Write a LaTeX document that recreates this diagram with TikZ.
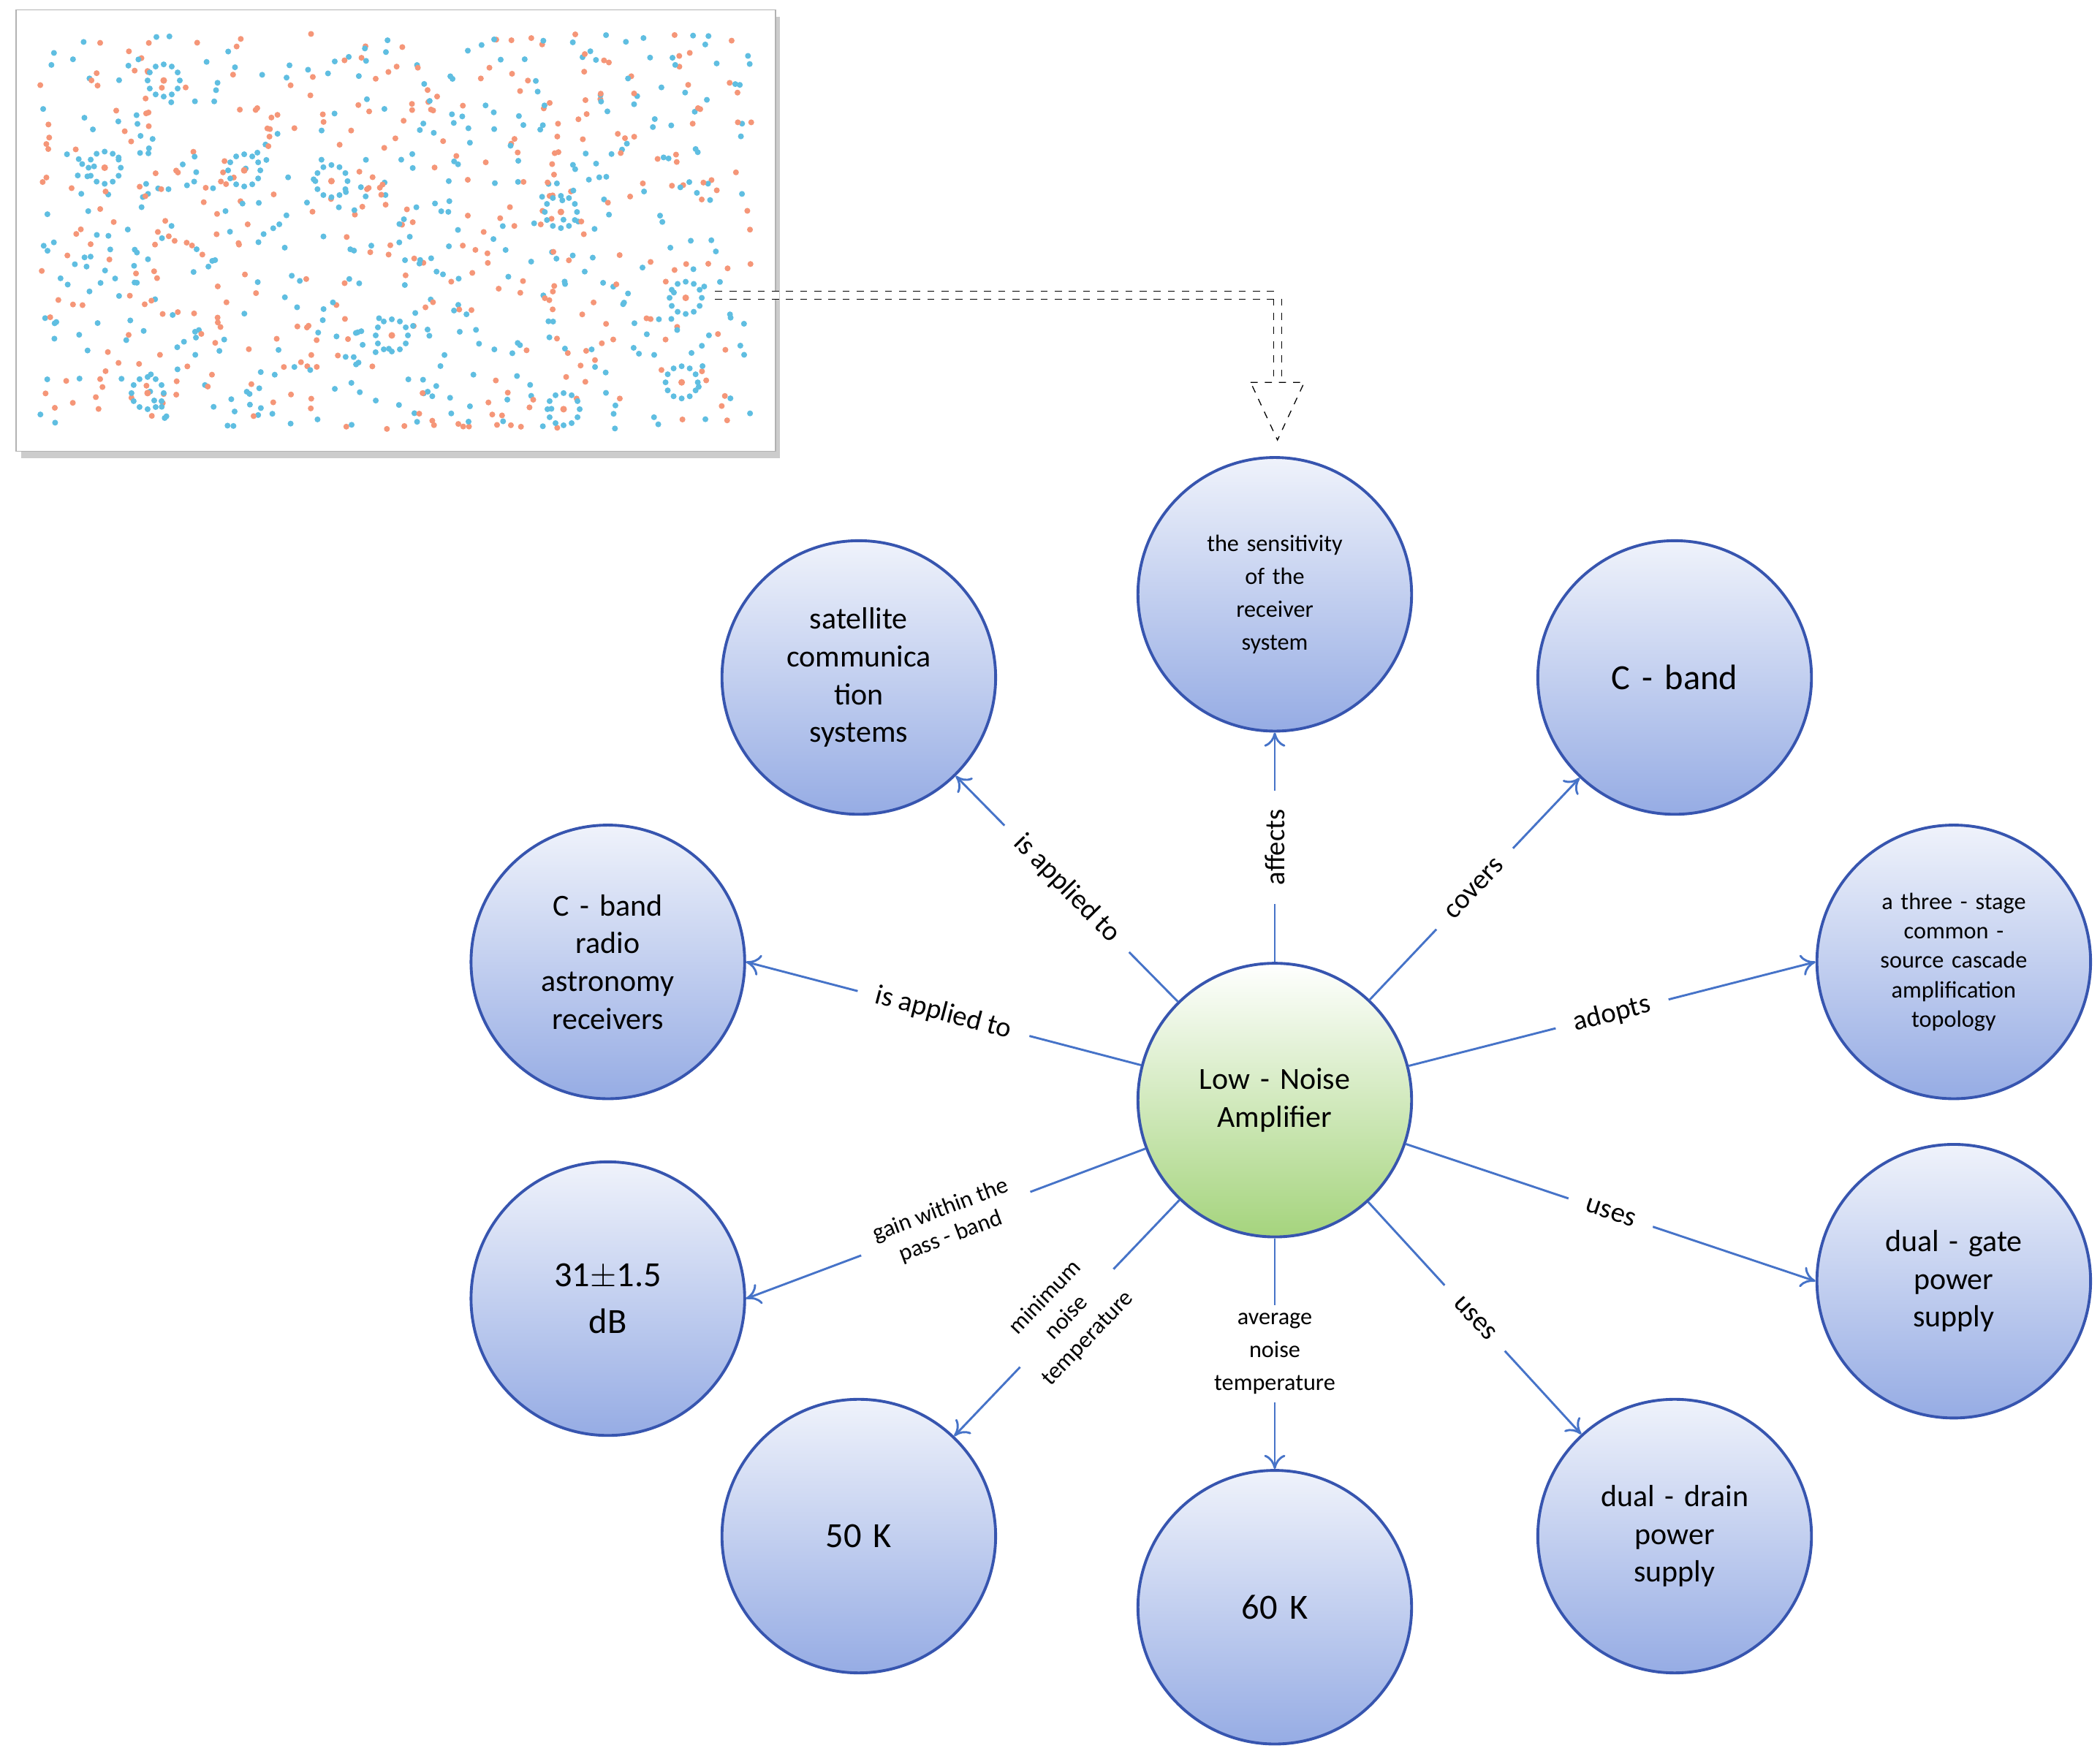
\documentclass[tikz,border=0pt]{standalone}
\usepackage{fontspec}
\setmainfont{Carlito}
\usetikzlibrary{positioning,arrows.meta,shadows}

\definecolor{edgeblue}{RGB}{70,115,200}
\definecolor{ringblue}{RGB}{55,85,175}
\definecolor{ballblue}{RGB}{150,172,228}
\definecolor{ballgreen}{RGB}{165,212,125}
\definecolor{dotcyan}{RGB}{95,190,225}
\definecolor{dotred}{RGB}{245,150,120}

\tikzset{
  ball/.style={draw=ringblue, line width=1.2pt, circle, minimum size=4.08cm,
    top color=white!85!ballblue, bottom color=ballblue, align=center,
    font=\fontsize{13}{16}\selectfont, text width=2.4cm},
  hub/.style={ball, top color=white, bottom color=ballgreen},
  link/.style={draw=edgeblue, line width=0.9pt, -{To[length=6pt,width=9pt]}},
  lbl/.style={midway, sloped, fill=white, inner xsep=8pt, inner ysep=3pt, align=center,
    font=\fontsize{12}{14}\selectfont},
}

\begin{document}
\begin{tikzpicture}[x=0.02cm, y=-0.02cm]
\useasboundingbox (0,0) rectangle (1565,1311);

% inset picture
\node[draw=gray!60, fill=white, drop shadow={shadow xshift=2pt, shadow yshift=-3pt, opacity=0.4},
  minimum width=11.32cm, minimum height=6.58cm] (pic) at (295,172) {};
\pgfmathsetseed{7}
\foreach \i in {1,...,800}{
  \pgfmathsetmacro{\px}{30+530*rnd}
  \pgfmathsetmacro{\py}{25+295*rnd}
  \pgfmathsetmacro{\pc}{rnd}
  \ifdim\pc pt<0.55pt
    \fill[dotcyan] (\px,\py) circle (2.2);
  \else
    \fill[dotred] (\px,\py) circle (2.2);
  \fi
}
\foreach \cx/\cy in {122/60, 182/127, 247/135, 292/250, 511/222, 110/293, 420/305, 508/285, 78/125, 418/158}{
  \foreach \a in {0,30,...,330}
    \fill[dotcyan] (\cx,\cy) ++(\a:12) circle (2.2);
  \fill[dotred] (\cx,\cy) circle (2.5);
}

% pointer to the graph
\coordinate (p0) at (533,220);
\coordinate (p1) at (952,220);
\coordinate (p2) at (952,285);
\draw[double=white, double distance=3pt, dashed, thin] (p0) -- (p1) -- (p2);
\draw[thin, dashed, fill=white] (932,285) -- (972,285) -- (952,328) -- cycle;

% nodes
\node[hub]  (lna)   at (950,820)  {Low - Noise\\Amplifier};
\node[ball, font=\fontsize{10}{14}\selectfont] (sens) at (950,443) {the sensitivity\\of the\\receiver\\system};
\node[ball] (sat)   at (640,505)  {satellite\\communica\\tion\\systems};
\node[ball, font=\fontsize{15}{18}\selectfont] (cband) at (1248,505) {C - band};
\node[ball] (radio) at (453,717)  {C - band\\radio\\astronomy\\receivers};
\node[ball, font=\fontsize{10}{12.5}\selectfont] (topo) at (1456,717) {a three - stage\\common -\\source cascade\\amplification\\topology};
\node[ball, font=\fontsize{15}{20}\selectfont] (gain) at (453,968) {31$\pm$1.5\\dB};
\node[ball] (gate)  at (1456,955) {dual - gate\\power\\supply};
\node[ball, font=\fontsize{15}{18}\selectfont] (minT) at (640,1145) {50 K};
\node[ball, font=\fontsize{15}{18}\selectfont] (avgT) at (950,1198) {60 K};
\node[ball] (drain) at (1248,1145) {dual - drain\\power\\supply};

% links
\draw[link] (lna) -- node[lbl]{affects} (sens);
\draw[link] (lna) -- node[lbl]{is applied to} (sat);
\draw[link] (lna) -- node[lbl]{covers} (cband);
\draw[link] (lna) -- node[lbl]{is applied to} (radio.east);
\draw[link] (lna) -- node[lbl]{adopts} (topo.west);
\draw[link] (lna) -- node[lbl, font=\fontsize{10}{12}\selectfont]{gain within the\\pass - band} (gain.east);
\draw[link] (lna) -- node[lbl]{uses} (gate.west);
\draw[link] (lna) -- node[lbl, inner xsep=3pt, font=\fontsize{10}{12.5}\selectfont]{minimum\\noise\\temperature} (minT);
\draw[link] (lna) -- node[midway, fill=white, align=center, font=\fontsize{10}{14}\selectfont]{average\\noise\\temperature} (avgT);
\draw[link] (lna) -- node[lbl]{uses} (drain);
\end{tikzpicture}
\end{document}
